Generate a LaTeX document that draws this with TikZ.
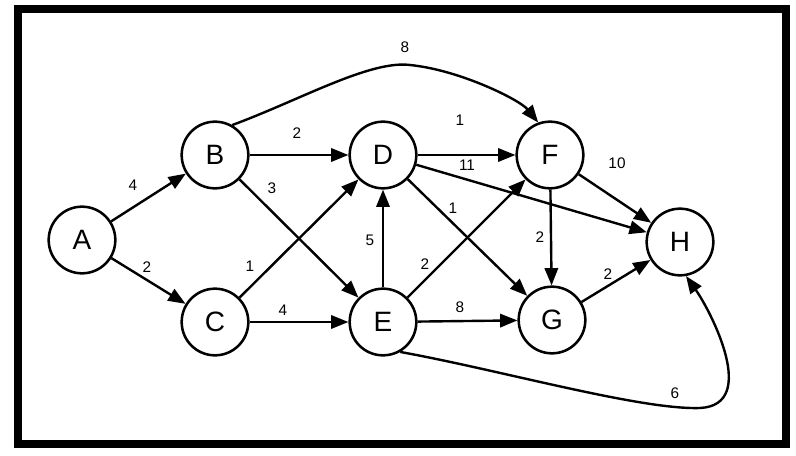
\documentclass[tikz,border=0pt]{standalone}
\usepackage{fontspec}
\setmainfont{Liberation Sans}
\usetikzlibrary{arrows.meta}
\begin{document}
\begin{tikzpicture}[x=0.75pt,y=-0.75pt,
  nd/.style={circle,draw,line width=1.9pt,minimum size=50pt,inner sep=0pt,font=\fontsize{21}{21}\selectfont},
  ed/.style={line width=1.8pt,-{Triangle[length=13pt,width=10pt]}},
  lb/.style={font=\fontsize{11.5}{12}\selectfont,inner sep=0pt}]
\useasboundingbox (0,0) rectangle (796,456);
\fill[white] (0,0) rectangle (796,456);
\draw[line width=6pt] (18,9) rectangle (786,444);
\node[nd] (A) at (82,240) {A};
\node[nd] (B) at (215,155) {B};
\node[nd] (C) at (215,322) {C};
\node[nd] (D) at (383,155) {D};
\node[nd] (E) at (383,322) {E};
\node[nd] (F) at (550,155) {F};
\node[nd] (G) at (552,320) {G};
\node[nd] (H) at (680,242) {H};
\draw[ed] (A) -- (B);
\draw[ed] (A) -- (C);
\draw[ed] (B) -- (D);
\draw[ed] (B) -- (E);
\draw[ed] (C) -- (D);
\draw[ed] (C) -- (E);
\draw[ed] (E) -- (D);
\draw[ed] (D) -- (F);
\draw[ed] (D) -- (H);
\draw[ed] (D) -- (G);
\draw[ed] (E) -- (F);
\draw[ed] (E) -- (G);
\draw[ed] (F) -- (G);
\draw[ed] (F) -- (H);
\draw[ed] (G) -- (H);
\draw[ed] (B.60) .. controls (300,100) and (370,60) .. (410,65) .. controls (460,70) and (520,100) .. (F.110);
\draw[ed] (E.-60) .. controls (500,370) and (640,410) .. (700,408) .. controls (760,405) and (710,310) .. (H.-80);
\node[lb] (l1) at (133,185) {4};
\node[lb] (l2) at (147,267) {2};
\node[lb] (l3) at (297,133) {2};
\node[lb] (l4) at (272,188) {3};
\node[lb] (l5) at (250,266) {1};
\node[lb] (l6) at (283,310) {4};
\node[lb] (l7) at (370,240) {5};
\node[lb] (l8) at (460,120) {1};
\node[lb] (l9) at (467,165) {11};
\node[lb] (l10) at (453,208) {1};
\node[lb] (l11) at (425,264) {2};
\node[lb] (l12) at (460,307) {8};
\node[lb] (l13) at (540,237) {2};
\node[lb] (l14) at (617,163) {10};
\node[lb] (l15) at (608,274) {2};
\node[lb] (l16) at (405,47) {8};
\node[lb] (l17) at (675,393) {6};
\end{tikzpicture}
\end{document}
